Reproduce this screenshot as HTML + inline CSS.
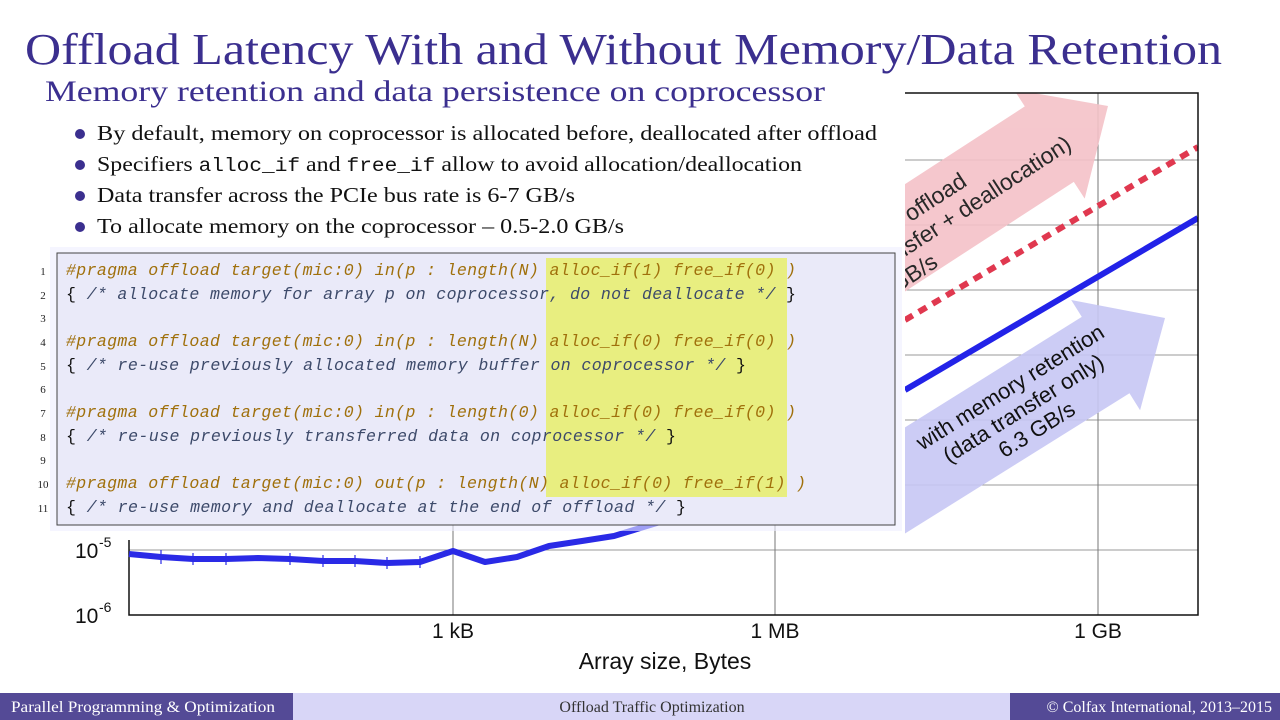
<!DOCTYPE html>
<html><head><meta charset="utf-8"><style>
html,body{margin:0;padding:0;background:#fff;}
svg{display:block;}
</style></head><body>
<svg width="1280" height="720" viewBox="0 0 1280 720" xmlns="http://www.w3.org/2000/svg">
<rect width="1280" height="720" fill="#fff"/>
<defs><clipPath id="pc"><rect x="905" y="93" width="293" height="522"/></clipPath></defs>
<g stroke="#999" stroke-width="1">
<line x1="129" y1="550" x2="1198" y2="550"/>
<line x1="905" y1="485" x2="1198" y2="485"/><line x1="905" y1="420" x2="1198" y2="420"/>
<line x1="905" y1="355" x2="1198" y2="355"/><line x1="905" y1="290" x2="1198" y2="290"/>
<line x1="905" y1="225" x2="1198" y2="225"/><line x1="905" y1="160" x2="1198" y2="160"/>
<line x1="453" y1="525" x2="453" y2="615" stroke="#777"/><line x1="775" y1="525" x2="775" y2="615" stroke="#777"/><line x1="1098" y1="93" x2="1098" y2="615" stroke="#777"/>
</g>
<g clip-path="url(#pc)">
<g transform="translate(1108,106) rotate(-33)" opacity="0.9">
<polygon points="0,0 -70,-65 -70,-45 -450,-45 -450,45 -70,45 -70,65" fill="#f4c2c8"/>
<text x="-330" y="-10" font-family="Liberation Sans, sans-serif" font-size="23" text-anchor="middle" fill="#111">without memory retention: offload</text>
<text x="-235" y="16" font-family="Liberation Sans, sans-serif" font-size="23" text-anchor="middle" fill="#111">(allocation + transfer + deallocation)</text>
<text x="-280" y="42" font-family="Liberation Sans, sans-serif" font-size="23" text-anchor="middle" fill="#111">~1.5 GB/s</text>
</g>
<g transform="translate(1165,318) rotate(-32)" opacity="0.9">
<polygon points="0,0 -70,-65 -70,-45 -450,-45 -450,45 -70,45 -70,65" fill="#c6c6f4"/>
</g>
<line x1="905" y1="320" x2="1198" y2="147" stroke="#e0384f" stroke-width="6" stroke-dasharray="9,7"/>
<line x1="905" y1="390" x2="1198" y2="218" stroke="#2222e8" stroke-width="6"/>
<g transform="translate(1165,318) rotate(-32)">
<text x="-168" y="-16" font-family="Liberation Sans, sans-serif" font-size="22" text-anchor="middle" fill="#111">with memory retention</text>
<text x="-168" y="9" font-family="Liberation Sans, sans-serif" font-size="22" text-anchor="middle" fill="#111">(data transfer only)</text>
<text x="-168" y="34" font-family="Liberation Sans, sans-serif" font-size="22" text-anchor="middle" fill="#111">6.3 GB/s</text>
</g>
</g>
<polyline points="905,93 1198,93 1198,615 129,615 129,540" fill="none" stroke="#111" stroke-width="1.5"/>
<polyline points="129,554 161,557 193,559 226,559 258,558 290,559 323,561 355,561 387,563 420,562 453,551 485,562 517,557 549,546 582,541 614,536 660,522" fill="none" stroke="#2a2ae6" stroke-width="6" stroke-linejoin="round"/>
<g stroke="#2a2ae6" stroke-width="1.2">
<line x1="161" y1="550" x2="161" y2="564"/><line x1="193" y1="553" x2="193" y2="565"/><line x1="226" y1="553" x2="226" y2="565"/><line x1="290" y1="553" x2="290" y2="565"/><line x1="323" y1="555" x2="323" y2="567"/><line x1="355" y1="555" x2="355" y2="567"/><line x1="387" y1="557" x2="387" y2="569"/><line x1="420" y1="556" x2="420" y2="568"/>
</g>
<g font-family="Liberation Sans, sans-serif" font-size="21" fill="#111">
<text x="75" y="558">10</text><text x="99" y="547" font-size="14">-5</text>
<text x="75" y="623">10</text><text x="99" y="612" font-size="14">-6</text>
<text x="453" y="638" text-anchor="middle">1 kB</text>
<text x="775" y="638" text-anchor="middle">1 MB</text>
<text x="1098" y="638" text-anchor="middle">1 GB</text>
<text x="665" y="669" text-anchor="middle" font-size="23">Array size, Bytes</text>
</g>
<rect x="50" y="247" width="852" height="284" fill="#eef" opacity="0.6"/>
<rect x="57" y="253" width="838" height="272" fill="#eaeaf9" stroke="#444" stroke-width="1"/>
<rect x="546" y="258" width="241" height="239" fill="#e8ee80"/>
<g font-family="Liberation Serif, serif" font-size="11" fill="#222" text-anchor="middle">
<text x="43" y="275">1</text><text x="43" y="299">2</text><text x="43" y="322">3</text><text x="43" y="346">4</text><text x="43" y="370">5</text><text x="43" y="393">6</text><text x="43" y="417">7</text><text x="43" y="441">8</text><text x="43" y="464">9</text><text x="43" y="488">10</text><text x="43" y="512">11</text>
</g>
<g font-family="Liberation Mono, monospace" font-size="16.6" font-style="italic" xml:space="preserve">
<text x="66" y="275" fill="#a0700c" textLength="730" lengthAdjust="spacing">#pragma offload target(mic:0) in(p : length(N) alloc_if(1) free_if(0) )</text>
<text x="66" y="299" fill="#3d4a6a" textLength="730" lengthAdjust="spacing"><tspan font-style="normal" fill="#111">{</tspan> /* allocate memory for array p on coprocessor, do not deallocate */ <tspan font-style="normal" fill="#111">}</tspan></text>
<text x="66" y="346" fill="#a0700c" textLength="730" lengthAdjust="spacing">#pragma offload target(mic:0) in(p : length(N) alloc_if(0) free_if(0) )</text>
<text x="66" y="370" fill="#3d4a6a" textLength="680" lengthAdjust="spacing"><tspan font-style="normal" fill="#111">{</tspan> /* re-use previously allocated memory buffer on coprocessor */ <tspan font-style="normal" fill="#111">}</tspan></text>
<text x="66" y="417" fill="#a0700c" textLength="730" lengthAdjust="spacing">#pragma offload target(mic:0) in(p : length(0) alloc_if(0) free_if(0) )</text>
<text x="66" y="441" fill="#3d4a6a" textLength="610" lengthAdjust="spacing"><tspan font-style="normal" fill="#111">{</tspan> /* re-use previously transferred data on coprocessor */ <tspan font-style="normal" fill="#111">}</tspan></text>
<text x="66" y="488" fill="#a0700c" textLength="740" lengthAdjust="spacing">#pragma offload target(mic:0) out(p : length(N) alloc_if(0) free_if(1) )</text>
<text x="66" y="512" fill="#3d4a6a" textLength="620" lengthAdjust="spacing"><tspan font-style="normal" fill="#111">{</tspan> /* re-use memory and deallocate at the end of offload */ <tspan font-style="normal" fill="#111">}</tspan></text>
</g>
<text x="25" y="64" font-family="Liberation Serif, serif" font-size="44" fill="#3b2f8f" textLength="1197" lengthAdjust="spacingAndGlyphs">Offload Latency With and Without Memory/Data Retention</text>
<text x="45" y="101" font-family="Liberation Serif, serif" font-size="30" fill="#3b2f8f" textLength="780" lengthAdjust="spacingAndGlyphs">Memory retention and data persistence on coprocessor</text>
<g fill="#3b2f8f"><circle cx="80" cy="134" r="5"/><circle cx="80" cy="165" r="5"/><circle cx="80" cy="196" r="5"/><circle cx="80" cy="227" r="5"/></g>
<g font-family="Liberation Serif, serif" font-size="21.5" fill="#111">
<text x="97" y="140" textLength="780" lengthAdjust="spacingAndGlyphs">By default, memory on coprocessor is allocated before, deallocated after offload</text>
<text x="97" y="171" textLength="705" lengthAdjust="spacingAndGlyphs">Specifiers <tspan font-family="Liberation Mono, monospace" font-size="19">alloc_if</tspan> and <tspan font-family="Liberation Mono, monospace" font-size="19">free_if</tspan> allow to avoid allocation/deallocation</text>
<text x="97" y="202" textLength="478" lengthAdjust="spacingAndGlyphs">Data transfer across the PCIe bus rate is 6-7 GB/s</text>
<text x="97" y="233" textLength="527" lengthAdjust="spacingAndGlyphs">To allocate memory on the coprocessor – 0.5-2.0 GB/s</text>
</g>
<rect x="0" y="693" width="1280" height="27" fill="#d8d6f7"/>
<rect x="0" y="693" width="293" height="27" fill="#544a96"/>
<rect x="1010" y="693" width="270" height="27" fill="#544a96"/>
<g font-family="Liberation Serif, serif" font-size="16">
<text x="11" y="712" fill="#fff" textLength="264" lengthAdjust="spacingAndGlyphs">Parallel Programming &amp; Optimization</text>
<text x="652" y="712" fill="#333" text-anchor="middle">Offload Traffic Optimization</text>
<text x="1272" y="712" fill="#fff" text-anchor="end">© Colfax International, 2013–2015</text>
</g>
</svg>
</body></html>
